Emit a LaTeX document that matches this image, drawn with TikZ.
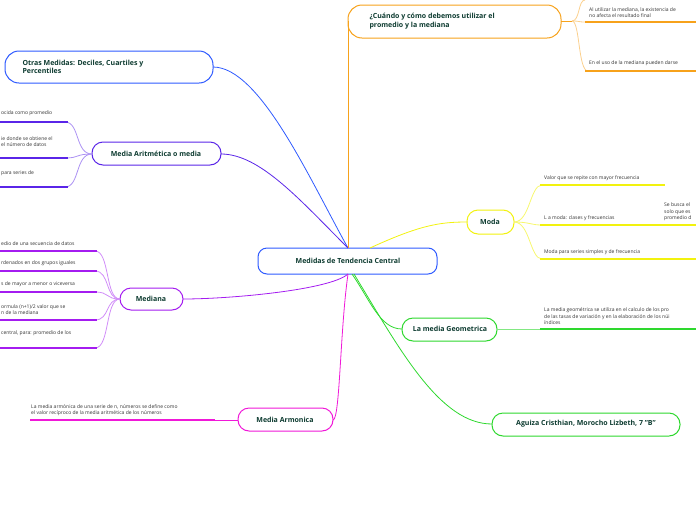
\documentclass[tikz,border=0pt]{standalone}
\usepackage{fontspec}
\setmainfont{Open Sans}
\begin{document}
\begin{tikzpicture}[x=1pt,y=-1pt,
 topic/.style={draw=#1,line width=1pt,rounded corners=11pt,fill=white,inner sep=0pt},
 ttl/.style={font=\bfseries\fontsize{7}{8.5}\selectfont,text=black!75!green!60!black,align=left},
 sub/.style={font=\fontsize{5}{6.5}\selectfont,text=black!80,align=left,anchor=south west,inner sep=1pt},
 ln/.style={draw=#1,line width=1.3pt},
 cv/.style={draw=#1,line width=0.8pt}]
\useasboundingbox (0,0) rectangle (696,520);
\definecolor{cb}{HTML}{2F5BFF}\definecolor{cp}{HTML}{5A25E8}\definecolor{cm}{HTML}{A41CF0}
\definecolor{cmg}{HTML}{F018D8}\definecolor{co}{HTML}{F7A21B}\definecolor{cy}{HTML}{F2F20E}
\definecolor{cg}{HTML}{2ED82E}\definecolor{ct}{HTML}{0D3B30}
% central
\draw[topic=cb,rounded corners=9pt] (258,248) rectangle (437,274);
\node[ttl,text=ct] (c) at (348,261) {Medidas de Tendencia Central};
\coordinate (ct) at (348,248);
% otras
\draw[topic=cb,rounded corners=14pt] (5,51) rectangle (213,83);
\node[ttl,text=ct,anchor=west] (om) at (19,67) {Otras Medidas: Deciles, Cuartiles y\\Percentiles};
\coordinate (omr) at (213,67);
\draw[cv=cb] (ct) .. controls (310,180) and (260,67) .. (omr);
% media aritmetica
\draw[topic=cp] (92,142) rectangle (221,165);
\node[ttl,text=ct] (ma) at (156,154) {Media Aritmética o media};
\draw[cv=cp] (ct) .. controls (300,200) and (260,154) .. (221,154);
\draw[cv=cp!50] (92,154) .. controls (75,154) and (80,122) .. (65,122);
\draw[cv=cp!50] (92,154) .. controls (75,154) and (80,158) .. (65,158);
\draw[cv=cp!50] (92,154) .. controls (75,154) and (80,187) .. (65,187);
\draw[ln=cp] (0,122)--(68,122); \draw[ln=cp] (0,158)--(68,158); \draw[ln=cp] (0,187)--(68,187);
\node[sub] at (0,117) {ocida como promedio};
\node[sub] at (0,148) {ie donde se obtiene el\\el número de datos};
\node[sub] at (0,177) {para series de};
% mediana
\draw[topic=cm] (120,288) rectangle (183,310);
\node[ttl,text=ct] (me) at (151,299) {Mediana};
\draw[cv=cm] (348,274) .. controls (330,290) and (230,299) .. (183,299);
\foreach \y in {251,271,292,320,348}{
 \draw[cv=cm!50] (120,299) .. controls (105,299) and (110,\y) .. (95,\y);
 \draw[ln=cm] (0,\y)--(97,\y);}
\node[sub] at (0,247) {edio de una secuencia de datos};
\node[sub] at (0,267) {rdenados en dos grupos iguales};
\node[sub] at (0,288) {s de mayor a menor o viceversa};
\node[sub] at (0,316) {ormula (n+1)/2 valor que se\\n de la mediana};
\node[sub] at (0,337) {central, para: promedio de los};
% armonica
\draw[topic=cmg] (238,408) rectangle (333,431);
\node[ttl,text=ct] (ar) at (285,420) {Media Armonica};
\draw[cv=cmg] (348,274) .. controls (340,330) and (340,420) .. (333,420);
\draw[ln=cmg] (30,420)--(215,420);
\draw[cv=cmg] (215,420)--(238,420);
\node[sub] at (30,417) {La media armónica de una serie de n, números se define como\\el valor recíproco de la media aritmética de los números};
% cuando
\draw[topic=co,rounded corners=14pt] (348,5) rectangle (561,38);
\node[ttl,text=ct,anchor=west] (cu) at (366,21) {¿Cuándo y cómo debemos utilizar el\\promedio y la mediana};
\draw[cv=co] (348,248) -- (348,21);
\draw[cv=co] (561,21) -- (572,21);
\draw[cv=co!50] (572,21) .. controls (580,21) and (578,0) .. (585,0);
\draw[cv=co!50] (572,21) .. controls (580,21) and (578,22) .. (585,22);
\draw[cv=co!50] (572,21) .. controls (580,21) and (578,71) .. (588,71);
\draw[ln=co] (585,22)--(696,22); \draw[ln=co] (585,71)--(696,71);
\node[sub] at (588,19) {Al utilizar la mediana, la existencia de\\no afecta el resultado final};
\node[sub] at (588,67) {En el uso de la mediana pueden darse};
% moda
\draw[topic=cy] (467,210) rectangle (514,234);
\node[ttl,text=ct] (mo) at (490,222) {Moda};
\draw[cv=cy] (370,248) .. controls (420,225) and (440,222) .. (467,222);
\foreach \y in {185,225,259}{\draw[cv=cy!60] (514,222) .. controls (530,222) and (530,\y) .. (542,\y);}
\draw[ln=cy] (540,185)--(665,185); \draw[ln=cy] (540,225)--(696,225); \draw[ln=cy] (540,259)--(696,259);
\node[sub] at (543,182) {Valor que se repite con mayor frecuencia};
\node[sub] at (543,222) {L a moda: clases y frecuencias};
\node[sub] at (663,222) {Se busca el\\solo que es\\promedio d};
\node[sub] at (543,256) {Moda para series simples y de frecuencia};
% geometrica
\draw[topic=cg] (402,318) rectangle (497,341);
\node[ttl,text=ct] (ge) at (450,329) {La media Geometrica};
\draw[cv=cg] (352,274) .. controls (370,300) and (380,329) .. (402,329);
\draw[cv=cg!60] (497,329)--(540,329);
\draw[ln=cg] (540,329)--(696,329);
\node[sub] at (543,326) {La media geométrica se utiliza en el calculo de los pro\\de las tasas de variación y en la elaboración de los núi\\índices};
% aguiza
\draw[topic=cg] (492,413) rectangle (680,436);
\node[ttl,text=ct] (ag) at (586,424) {Aguiza Cristhian, Morocho Lizbeth, 7 "B"};
\draw[cv=cg] (354,274) .. controls (400,350) and (440,424) .. (492,424);
\end{tikzpicture}
\end{document}
